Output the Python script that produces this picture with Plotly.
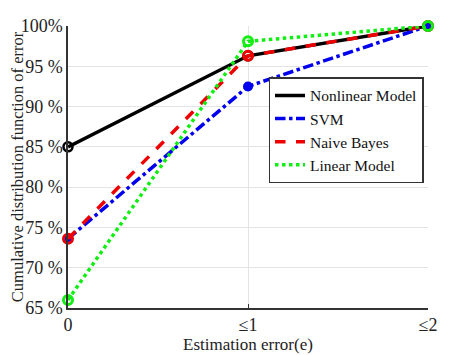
import plotly.graph_objects as go

x_vals = [0, 1, 2]
x_labels = ["0", "≤1", "≤2"]
nonlinear = [85.0, 96.3, 100.0]
svm = [73.6, 92.5, 100.0]
naive_bayes = [73.6, 96.3, 100.0]
linear = [66.0, 98.1, 100.0]
y_ticks = [65, 70, 75, 80, 85, 90, 95, 100]
y_labels = ["65 %", "70 %", "75 %", "80 %", "85 %", "90 %", "95 %", "100%"]

font = "Liberation Serif"

fig = go.Figure()
series = [
    ("Nonlinear Model", nonlinear, "black", "solid", dict(symbol="circle-open", size=9, line=dict(width=2.5, color="black"))),
    ("SVM", svm, "#0000ee", "dashdot", dict(symbol="circle", size=10, color="#0000ee")),
    ("Naive Bayes", naive_bayes, "#ee0000", "dash", dict(symbol="circle-open", size=9, line=dict(width=3, color="#ee0000"))),
    ("Linear Model", linear, "#11ee11", "dot", dict(symbol="circle-open", size=9, line=dict(width=3, color="#11ee11"))),
]
for name, ys, color, dash, marker in series:
    fig.add_trace(go.Scatter(
        x=x_vals, y=ys, name=name, mode="lines+markers",
        line=dict(color=color, width=3.5, dash=dash),
        marker=marker, cliponaxis=False, showlegend=False,
    ))
# legend entries (lines only, like the reference)
for name, ys, color, dash, marker in series:
    fig.add_trace(go.Scatter(
        x=[None], y=[None], name=name, mode="lines",
        line=dict(color=color, width=3.5, dash=dash), showlegend=True,
    ))

fig.update_layout(
    width=466, height=347,
    margin=dict(l=60, r=46, t=18, b=47, autoexpand=False),
    paper_bgcolor="white", plot_bgcolor="white",
    font=dict(family=font, size=17, color="#222"),
    showlegend=True,
    legend=dict(
        x=0.557, y=0.818, xanchor="left", yanchor="top",
        bgcolor="white", bordercolor="#333", borderwidth=1.5,
        font=dict(family=font, size=15.5, color="#111"),
        tracegroupgap=0, itemwidth=30,
    ),
    xaxis=dict(
        range=[0, 2], tickvals=x_vals, ticktext=x_labels,
        showgrid=True, gridcolor="#e3e3e3", gridwidth=1,
        showline=True, linecolor="#333", linewidth=1.5,
        ticks="inside", ticklen=4, tickcolor="#333",
        zeroline=False, automargin=False,
        tickfont=dict(family=font, size=18),
        title=dict(text="Estimation error(e)", font=dict(family=font, size=17), standoff=0),
    ),
    yaxis=dict(
        range=[65, 100], tickvals=y_ticks, ticktext=y_labels,
        showgrid=True, gridcolor="#e3e3e3", gridwidth=1,
        showline=True, linecolor="#333", linewidth=1.5,
        ticks="", zeroline=False, automargin=False,
        tickfont=dict(family=font, size=18),
        title=dict(text="Cumulative distribution function of error", font=dict(family=font, size=16.5), standoff=0),
    ),
)

fig.write_html("out.html")
